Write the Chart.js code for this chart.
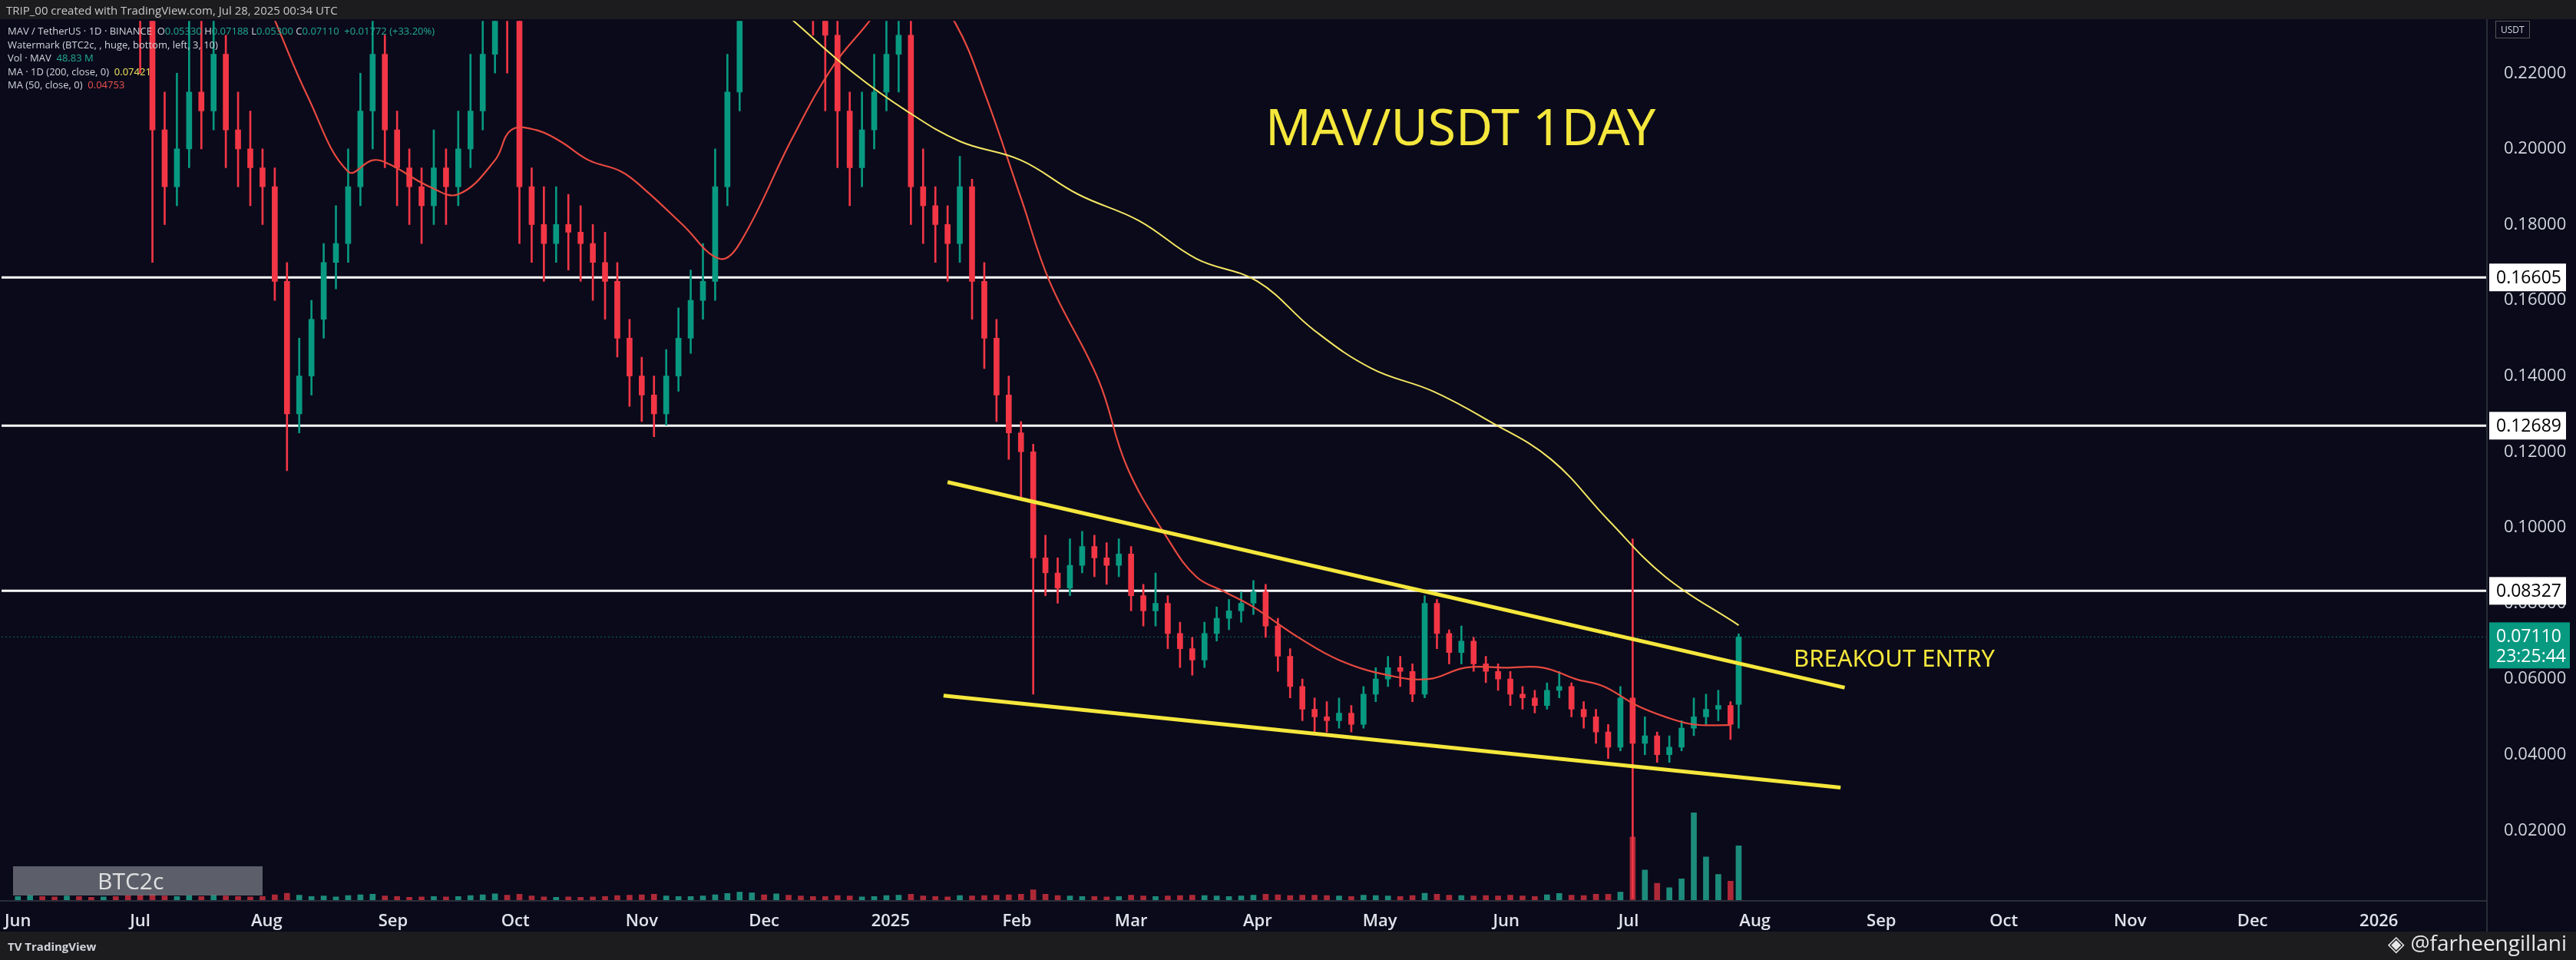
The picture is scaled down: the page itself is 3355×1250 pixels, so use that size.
<!DOCTYPE html>
<html><head><meta charset="utf-8">
<script src="https://cdn.jsdelivr.net/npm/chart.js@4.4.1/dist/chart.umd.min.js"></script>
<style>
html,body{margin:0;padding:0;background:#0a0a1a;width:3355px;height:1250px;overflow:hidden;font-family:"Open Sans",Roboto,sans-serif}
#wrap{position:absolute;left:0;top:0;width:3355px;height:1250px}
.t{position:absolute;white-space:nowrap}
#topbar{position:absolute;left:0;top:0;width:3355px;height:25px;background:#1c1c1f}
#botbar{position:absolute;left:0;top:1213px;width:3355px;height:37px;background:#1c1c1f}
</style></head><body>
<div id="topbar"></div><div id="botbar"></div>
<div id="wrap"><canvas id="c" width="3355" height="1250"></canvas></div>
<div class="t" style="left:8px;top:3px;font-size:15px;color:#c8c8c8">TRIP_00 created with TradingView.com, Jul 28, 2025 00:34 UTC</div>
<div class="t" style="left:10px;top:32px;font-size:13px;color:#d1d4dc;line-height:17.5px">
MAV / TetherUS · 1D · BINANCE &nbsp;O<span style="color:#22ab94">0.05330</span> H<span style="color:#22ab94">0.07188</span> L<span style="color:#22ab94">0.05300</span> C<span style="color:#22ab94">0.07110 &nbsp;+0.01772 (+33.20%)</span><br>
Watermark (BTC2c, , huge, bottom, left, 3, 10)<br>
Vol · MAV &nbsp;<span style="color:#22ab94">48.83 M</span><br>
MA · 1D (200, close, 0) &nbsp;<span style="color:#f5e663">0.07421</span><br>
MA (50, close, 0) &nbsp;<span style="color:#ef5350">0.04753</span></div>
<div class="t" style="left:17px;top:1128px;width:325px;height:38px;background:rgba(120,123,134,0.75);color:#e0e0e0;font-size:30px;line-height:38px;text-indent:110px">BTC2c</div>
<div class="t" style="left:1648px;top:118px;font-size:66px;color:#f5e73c;font-family:'Noto Sans',sans-serif">MAV/USDT 1DAY</div>
<div class="t" style="left:2336px;top:835px;font-size:31px;color:#f5e73c;font-family:'Noto Sans',sans-serif">BREAKOUT ENTRY</div>
<div class="t" style="left:3250px;top:27px;font-size:12px;color:#d1d4dc;border:1px solid #555;padding:2px 6px">USDT</div>
<div class="t" style="left:10px;top:1222px;font-size:15px;color:#d1d4dc;font-weight:bold">TV TradingView</div>
<div class="t" style="right:12px;top:1208px;font-size:28px;color:#e8e8e8">◈ @farheengillani</div>
<script>
// ---- DATA ----
const days = [0,3,6,9,12,15,18,21,24,27,30,33,36,39,42,45,48,51,54,57,60,63,66,69,72,75,78,81,84,87,90,93,96,99,102,105,108,111,114,117,120,123,126,129,132,135,138,141,144,147,150,153,156,159,162,165,168,171,174,177,180,183,186,189,192,195,198,201,204,207,210,213,216,219,222,225,228,231,234,237,240,243,246,249,252,255,258,261,264,267,270,273,276,279,282,285,288,291,294,297,300,303,306,309,312,315,318,321,324,327,330,333,336,339,342,345,348,351,354,357,360,363,366,369,372,375,378,381,384,387,390,393,396,399,402,405,408,411,414,417,420,422];
const opens = [.32,.33,.34,.32,.30,.31,.29,.27,.28,.26,.25,.24,.205,.19,.20,.215,.21,.225,.205,.20,.195,.19,.165,.13,.14,.155,.17,.175,.19,.21,.225,.205,.195,.19,.185,.195,.19,.20,.21,.225,.24,.235,.19,.18,.175,.18,.178,.175,.17,.165,.15,.14,.135,.13,.14,.15,.16,.165,.19,.215,.245,.26,.25,.27,.26,.25,.24,.23,.21,.195,.205,.215,.225,.23,.19,.185,.18,.175,.19,.165,.15,.135,.125,.12,.092,.088,.084,.09,.095,.092,.09,.093,.082,.078,.08,.072,.068,.065,.072,.076,.078,.08,.083,.074,.066,.058,.052,.05,.049,.051,.048,.056,.06,.063,.062,.056,.08,.072,.067,.07,.064,.062,.06,.056,.055,.053,.057,.058,.052,.05,.046,.042,.055,.043,.045,.040,.042,.047,.050,.052,.053,.0533];
const closes = [.33,.34,.32,.30,.31,.29,.27,.28,.26,.25,.24,.205,.19,.20,.215,.21,.225,.205,.20,.195,.19,.165,.13,.14,.155,.17,.175,.19,.21,.225,.205,.195,.19,.185,.195,.19,.20,.21,.225,.24,.235,.19,.18,.175,.18,.178,.175,.17,.165,.15,.14,.135,.13,.14,.15,.16,.165,.19,.215,.245,.26,.25,.27,.26,.25,.24,.23,.21,.195,.205,.215,.225,.23,.19,.185,.18,.175,.19,.165,.15,.135,.125,.12,.092,.088,.084,.09,.095,.092,.09,.093,.082,.078,.08,.072,.068,.065,.072,.076,.078,.08,.083,.074,.066,.058,.052,.05,.049,.051,.048,.056,.06,.063,.062,.056,.08,.072,.067,.07,.064,.062,.06,.056,.055,.053,.057,.058,.052,.05,.046,.042,.055,.043,.045,.040,.042,.047,.050,.052,.053,.048,.0711];
const highs = [.35,.36,.35,.33,.32,.32,.30,.29,.29,.27,.26,.245,.215,.22,.235,.24,.25,.23,.215,.21,.20,.195,.17,.15,.16,.175,.185,.20,.22,.245,.23,.21,.20,.195,.205,.20,.21,.225,.24,.26,.25,.24,.195,.19,.19,.188,.185,.18,.178,.17,.155,.145,.14,.147,.158,.168,.175,.20,.225,.26,.28,.27,.29,.28,.265,.255,.245,.235,.215,.215,.225,.24,.25,.235,.20,.19,.185,.198,.192,.17,.155,.14,.128,.122,.098,.092,.097,.099,.098,.096,.097,.095,.085,.088,.082,.075,.071,.075,.079,.081,.083,.086,.085,.076,.068,.06,.055,.054,.055,.053,.058,.063,.066,.066,.064,.082,.081,.073,.074,.071,.066,.064,.062,.058,.057,.059,.062,.059,.054,.052,.048,.058,.097,.05,.046,.045,.049,.055,.056,.057,.054,.0719];
const lows = [.31,.32,.31,.29,.29,.28,.26,.26,.25,.24,.22,.17,.18,.185,.195,.20,.205,.195,.19,.185,.18,.16,.115,.125,.135,.15,.163,.17,.185,.20,.195,.185,.18,.175,.18,.18,.185,.195,.205,.22,.22,.175,.17,.165,.17,.168,.165,.16,.155,.145,.132,.128,.124,.127,.136,.146,.155,.16,.185,.21,.24,.24,.245,.25,.24,.23,.21,.195,.185,.19,.20,.21,.215,.18,.175,.17,.165,.17,.155,.142,.128,.118,.108,.056,.082,.08,.082,.088,.087,.085,.087,.078,.074,.074,.068,.063,.061,.063,.07,.073,.075,.077,.071,.062,.055,.049,.046,.046,.047,.046,.047,.054,.058,.058,.054,.055,.068,.064,.064,.062,.059,.057,.053,.052,.051,.052,.055,.05,.047,.043,.039,.041,.002,.04,.038,.038,.041,.045,.048,.049,.044,.047];
const volumes = [2,2.5,2,1.8,2.2,2,1.6,1.8,2,2.4,2.6,3,2.2,2,2.4,2,2.6,2.2,2,1.8,2,2.8,3.5,2.6,2,2.2,1.8,2.4,2.8,3,2.2,2,1.6,1.8,2,1.8,2,2.4,2.8,3.2,2.6,3,2.2,1.8,1.6,1.8,1.6,1.8,2,2.4,2.6,2.8,3,2.2,2,2,2.2,2.8,3.4,4,3.6,2.8,3.2,2.6,2.2,2,2,2.4,2.2,1.8,2,2.4,2.6,3,2.2,2,1.8,2.4,2.2,2.4,2.6,2.8,3,5,3,2.4,2.2,2,2,1.8,2,2.6,2.2,2,2.2,2.4,2.6,2.4,2.2,2,2.2,2.6,3,2.8,2.4,2.6,2.6,2.4,2.2,2,2.6,2.4,2.2,2,2.4,3.5,3,2.6,2.4,2.2,2.4,2.2,2.6,2.2,2,2.8,3.4,2.6,2.4,3,3,4,29,14,8,6,10,40,20,12,9,25];
const ma50Days = [63,71,81,87,91,101,108,117,121,127,133,140,148,154,163,172,177,190,200,209,216,223,230,237,246,253,265,272,282,289,296,303,314,324,336,346,355,365,374,382,389,397,404,411,420];
const ma50Vals = [.234,.214,.194,.197,.196,.19,.188,.197,.205,.205,.202,.197,.194,.189,.18,.171,.175,.203,.222,.234,.245,.242,.233,.215,.187,.165,.139,.116,.097,.087,.083,.079,.071,.065,.061,.06,.063,.063,.063,.06,.058,.053,.05,.048,.0478];
const ma200Days = [190,205,218,231,246,260,275,289,304,318,332,347,361,376,390,404,422];
const ma200Vals = [.234,.22,.21,.202,.197,.188,.181,.171,.165,.152,.142,.136,.128,.118,.102,.087,.0742];
const upperTrendDays = [228,448]; const upperTrendVals = [.112,.0577];
const lowerTrendDays = [227,447]; const lowerTrendVals = [.0556,.0313];
const levels = [0.16605,0.12689,0.08327];
const lastPrice = 0.07110; const countdown = "23:25:44";
const monthTickDays = [0,30,61,92,122,153,183,214,245,273,304,334,365,395,426,457,487,518,548,579];
const monthTickLabels = ["Jun","Jul","Aug","Sep","Oct","Nov","Dec","2025","Feb","Mar","Apr","May","Jun","Jul","Aug","Sep","Oct","Nov","Dec","2026"];
const priceTicks = [0.02,0.04,0.06,0.08,0.10,0.12,0.14,0.16,0.18,0.20,0.22];

// ---- CHART ----
const UP='#089981', DN='#f23645';
const up = i => closes[i] >= opens[i];
const wick = days.map((d,i)=>({x:d,y:[lows[i],highs[i]]}));
const body = days.map((d,i)=>({x:d,y:[opens[i],closes[i]]}));
const vol = days.map((d,i)=>({x:d,y:volumes[i]}));
const pts = (a,b)=>a.map((d,i)=>({x:d,y:b[i]}));

const overlay = {
  id:'overlay',
  beforeDatasetsDraw(ch){
    const {ctx,chartArea:a,scales:{y}}=ch;
    ctx.save();
    const py=y.getPixelForValue(lastPrice);
    ctx.strokeStyle='rgba(8,153,129,0.7)';ctx.setLineDash([2,3]);ctx.lineWidth=1;
    ctx.beginPath();ctx.moveTo(a.left,py);ctx.lineTo(a.right,py);ctx.stroke();ctx.setLineDash([]);
    ctx.strokeStyle='#ffffff';ctx.lineWidth=3;
    levels.forEach(v=>{const p=y.getPixelForValue(v);ctx.beginPath();ctx.moveTo(a.left,p);ctx.lineTo(a.right,p);ctx.stroke();});
    ctx.restore();
  },
  afterDraw(ch){
    const {ctx,chartArea:a,scales:{y}}=ch;
    ctx.save();
    ctx.strokeStyle='#2a2e39';ctx.lineWidth=2;
    ctx.beginPath();ctx.moveTo(a.right,25);ctx.lineTo(a.right,1213);ctx.moveTo(0,a.bottom);ctx.lineTo(a.right,a.bottom);ctx.stroke();
    ctx.font='23px "Open Sans"';ctx.textBaseline='middle';
    levels.forEach(v=>{const p=y.getPixelForValue(v);
      ctx.fillStyle='#ffffff';ctx.fillRect(a.right+3,p-18,100,36);
      ctx.fillStyle='#000';ctx.fillText(v.toFixed(5),a.right+12,p+1);});
    const py=y.getPixelForValue(lastPrice);
    ctx.fillStyle='#089981';ctx.fillRect(a.right+3,py-19,105,60);
    ctx.fillStyle='#ffffff';ctx.fillText(lastPrice.toFixed(5),a.right+12,py);
    ctx.fillText(countdown,a.right+12,py+26);
    ctx.restore();
  }
};

new Chart(document.getElementById('c'),{
  type:'bar',
  data:{datasets:[
    {type:'line',data:pts(ma200Days,ma200Vals),borderColor:'#f5e663',borderWidth:2,pointRadius:0,tension:0.4,order:1},
    {type:'line',data:pts(ma50Days,ma50Vals),borderColor:'#e8493f',borderWidth:2.2,pointRadius:0,tension:0.4,order:1},
    {type:'line',data:pts(upperTrendDays,upperTrendVals),borderColor:'#f5e73c',borderWidth:5,pointRadius:0,order:0},
    {type:'line',data:pts(lowerTrendDays,lowerTrendVals),borderColor:'#f5e73c',borderWidth:5,pointRadius:0,order:0},
    {data:wick,barThickness:2,backgroundColor:c=>up(c.dataIndex)?UP:DN,order:3},
    {data:body,barThickness:7,backgroundColor:c=>up(c.dataIndex)?UP:DN,order:2},
    {data:vol,yAxisID:'yv',barThickness:7,backgroundColor:c=>up(c.dataIndex)?'rgba(34,171,148,0.8)':'rgba(242,54,69,0.7)',order:4}
  ]},
  plugins:[overlay],
  options:{
    responsive:false,animation:false,
    datasets:{bar:{grouped:false}},
    layout:{padding:{top:25,bottom:37,left:0,right:0}},
    plugins:{legend:{display:false},tooltip:{enabled:false}},
    scales:{
      x:{type:'linear',min:-4,max:605.5,offset:false,grid:{display:false},border:{display:false},
        afterBuildTicks:s=>{s.ticks=monthTickDays.map(v=>({value:v}));},
        afterFit:s=>{s.height=40;},
        ticks:{autoSkip:false,maxRotation:0,color:'#e0e3eb',padding:6,
          font:{size:22,family:'Open Sans',weight:'600'},
          callback:v=>monthTickLabels[monthTickDays.indexOf(v)]}},
      y:{position:'right',min:0.0014,max:0.2338,grid:{display:false},border:{display:false},
        afterBuildTicks:s=>{s.ticks=priceTicks.map(v=>({value:v}));},
        afterFit:s=>{s.width=116;},
        ticks:{color:'#d1d4dc',padding:14,font:{size:22,family:'Open Sans'},callback:v=>v.toFixed(5)}},
      yv:{display:false,min:0,max:400}
    }
  }
});
</script></body></html>
